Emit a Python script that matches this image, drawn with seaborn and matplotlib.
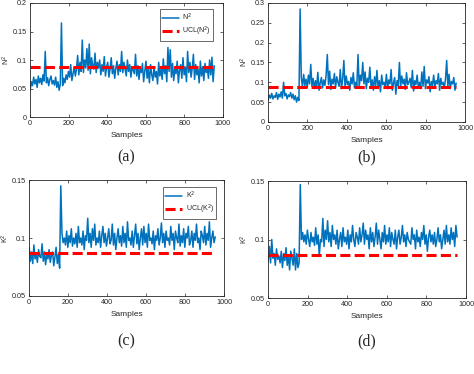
import numpy as np
import seaborn as sns
from matplotlib import pyplot as plt
from matplotlib.ticker import FuncFormatter

# sample index of every plotted point (one point per 6 samples)
samples = list(range(1, 961, 6))

# values in thousandths
n2_a = [
    48, 62, 55, 70, 58, 66, 52, 72, 60, 68,
    57, 74, 63, 115, 60, 69, 55, 66, 72, 58,
    64, 56, 70, 52, 62, 47, 58, 165, 55, 68,
    60, 74, 66, 80, 70, 92, 64, 76, 88, 72,
    84, 108, 74, 96, 80, 135, 78, 100, 86, 120,
    82, 128, 76, 104, 90, 84, 112, 78, 96, 86,
    100, 74, 92, 80, 106, 72, 88, 96, 70, 84,
    104, 76, 90, 68, 86, 98, 74, 92, 80, 115,
    78, 96, 84, 72, 100, 80, 92, 70, 88, 82,
    76, 110, 72, 90, 66, 86, 78, 94, 62, 80,
    98, 68, 84, 60, 92, 74, 64, 88, 70, 80,
    58, 96, 72, 84, 66, 102, 76, 90, 62, 122,
    80, 118, 70, 94, 64, 86, 76, 98, 60, 82,
    92, 68, 104, 74, 88, 62, 115, 78, 96, 70,
    86, 110, 66, 92, 74, 84, 60, 98, 72, 88,
    64, 94, 78, 86, 68, 100, 74, 105, 62, 90,
]
n2_b = [
    55, 68, 60, 72, 58, 66, 62, 74, 57, 70,
    63, 76, 60, 100, 66, 72, 58, 68, 64, 74,
    60, 70, 56, 66, 50, 62, 54, 285, 112, 88,
    120, 92, 108, 86, 118, 96, 145, 90, 110, 84,
    104, 88, 125, 80, 98, 112, 86, 106, 92, 118,
    170, 94, 128, 82, 108, 96, 122, 86, 114, 100,
    90, 132, 84, 108, 155, 88, 116, 94, 102, 80,
    112, 96, 124, 86, 100, 92, 170, 88, 118, 104,
    150, 96, 126, 84, 110, 100, 138, 90, 106, 80,
    114, 92, 130, 86, 104, 76, 118, 94, 100, 88,
    120, 84, 106, 96, 132, 80, 98, 112, 70, 104,
    92, 150, 88, 116, 96, 108, 82, 124, 94, 100,
    110, 86, 130, 78, 104, 94, 118, 88, 100, 84,
    126, 90, 140, 84, 106, 98, 114, 76, 102, 92,
    118, 88, 104, 96, 122, 80, 110, 94, 100, 86,
    108, 155, 90, 120, 84, 102, 96, 112, 80, 98,
]
k2_c = [
    92, 80, 88, 78, 94, 82, 86, 79, 90, 84,
    83, 95, 80, 88, 77, 86, 82, 90, 79, 85,
    88, 76, 84, 92, 78, 86, 74, 145, 104, 96,
    100, 94, 106, 92, 102, 96, 108, 93, 100, 95,
    104, 92, 110, 96, 100, 94, 106, 90, 102, 98,
    117, 96, 104, 92, 108, 98, 112, 94, 100, 96,
    106, 92, 102, 110, 96, 104, 93, 100, 108, 95,
    98, 112, 94, 104, 90, 100, 108, 96, 102, 93,
    110, 96, 104, 92, 114, 98, 100, 94, 106, 92,
    102, 112, 95, 104, 90, 100, 108, 94, 110, 96,
    104, 92, 112, 98, 100, 95, 106, 90, 102, 98,
    108, 94, 100, 113, 96, 104, 92, 106, 98, 100,
    94, 110, 98, 104, 90, 106, 100, 96, 112, 93,
    102, 96, 108, 92, 104, 100, 110, 94, 98, 106,
    92, 104, 98, 112, 96, 100, 90, 106, 102, 96,
    110, 94, 104, 98, 114, 92, 100, 106, 96, 101,
]
k2_d = [
    82, 94, 80, 100, 84, 88, 78, 92, 83, 86,
    80, 90, 76, 88, 82, 93, 78, 86, 74, 90,
    84, 78, 92, 74, 88, 76, 80, 147, 100, 106,
    98, 104, 96, 108, 100, 94, 106, 98, 102, 95,
    110, 96, 104, 86, 100, 98, 118, 94, 108, 100,
    116, 98, 106, 94, 112, 100, 104, 96, 108, 92,
    100, 106, 94, 110, 98, 102, 96, 108, 92, 104,
    98, 112, 100, 94, 106, 102, 96, 110, 98, 104,
    114, 96, 108, 100, 104, 92, 110, 98, 106, 94,
    102, 114, 96, 108, 100, 92, 106, 98, 112, 96,
    104, 98, 110, 94, 106, 100, 96, 108, 92, 102,
    108, 96, 102, 112, 98, 104, 94, 106, 100, 98,
    96, 110, 100, 104, 92, 108, 98, 102, 94, 106,
    100, 112, 96, 104, 90, 102, 108, 98, 104, 96,
    106, 94, 100, 110, 98, 104, 92, 100, 108, 96,
    112, 98, 104, 96, 110, 100, 106, 94, 112, 102,
]
ucl_n2 = 0.088
ucl_k2 = 0.087

x_ticks = [0, 200, 400, 600, 800, 1000]
y_ticks_a = [0, 0.05, 0.1, 0.15, 0.2]
y_ticks_b = [0, 0.05, 0.1, 0.15, 0.2, 0.25, 0.3]
y_ticks_cd = [0.05, 0.1, 0.15]

BLUE = "#0072BD"
RED = "#FF0000"
INK = "#262626"

sns.set_style("ticks")
plt.rcParams["font.family"] = ["Liberation Sans", "DejaVu Sans"]
fig = plt.figure(figsize=(4.74, 3.74), dpi=100)

panels = [
    # rect, values, ucl, yticks, symbol, letter, legend anchor
    ([0.0633, 0.687, 0.407, 0.305], n2_a, ucl_n2, y_ticks_a, "N", "(a)", (0.95, 0.945)),
    ([0.5654, 0.674, 0.4156, 0.318], n2_b, ucl_n2, y_ticks_b, "N", "(b)", None),
    ([0.0612, 0.2086, 0.4114, 0.310], k2_c, ucl_k2, y_ticks_cd, "K", "(c)", (0.96, 0.94)),
    ([0.5654, 0.2032, 0.4177, 0.3128], k2_d, ucl_k2, y_ticks_cd, "K", "(d)", None),
]

for rect, vals, ucl, yticks, sym, letter, anchor in panels:
    ax = fig.add_axes(rect)
    y = np.array(vals) / 1000.0
    sns.lineplot(x=samples, y=y, ax=ax, color=BLUE, linewidth=1.1,
                 label=f"{sym}$^2$")
    sns.lineplot(x=samples, y=[ucl] * len(samples), ax=ax, color=RED,
                 linewidth=2.2, linestyle=(0, (3.3, 1.4)),
                 label=f"UCL({sym}$^2$)")
    ax.set_xlim(0, 1000)
    ax.set_ylim(yticks[0], yticks[-1])
    ax.set_xticks(x_ticks)
    ax.set_yticks(yticks)
    ax.yaxis.set_major_formatter(FuncFormatter(lambda v, p: f"{v:g}"))
    ax.tick_params(direction="in", length=2, width=0.5, labelsize=5.2,
                   top=True, right=True, pad=2, colors=INK)
    for sp in ax.spines.values():
        sp.set_linewidth(0.6)
        sp.set_color(INK)
    ax.set_xlabel("Samples", fontsize=6, labelpad=4, color=INK)
    ax.set_ylabel(f"{sym}$^2$", fontsize=5.2, labelpad=1, color=INK)
    if anchor is not None:
        leg = ax.legend(loc="upper right", bbox_to_anchor=anchor, fontsize=5,
                        frameon=True, fancybox=False, handlelength=2.4,
                        borderpad=0.35, labelspacing=0.3, handletextpad=0.5,
                        borderaxespad=0)
        leg.get_frame().set_edgecolor(INK)
        leg.get_frame().set_linewidth(0.6)
    else:
        ax.get_legend().remove()
    cx = rect[0] + rect[2] / 2
    cy = 0.578 if rect[1] > 0.5 else 0.086
    fig.text(cx, cy, letter, ha="center", va="center", fontsize=11.5,
             family=["Liberation Serif", "DejaVu Serif"])

plt.savefig("out.png", dpi=100)
